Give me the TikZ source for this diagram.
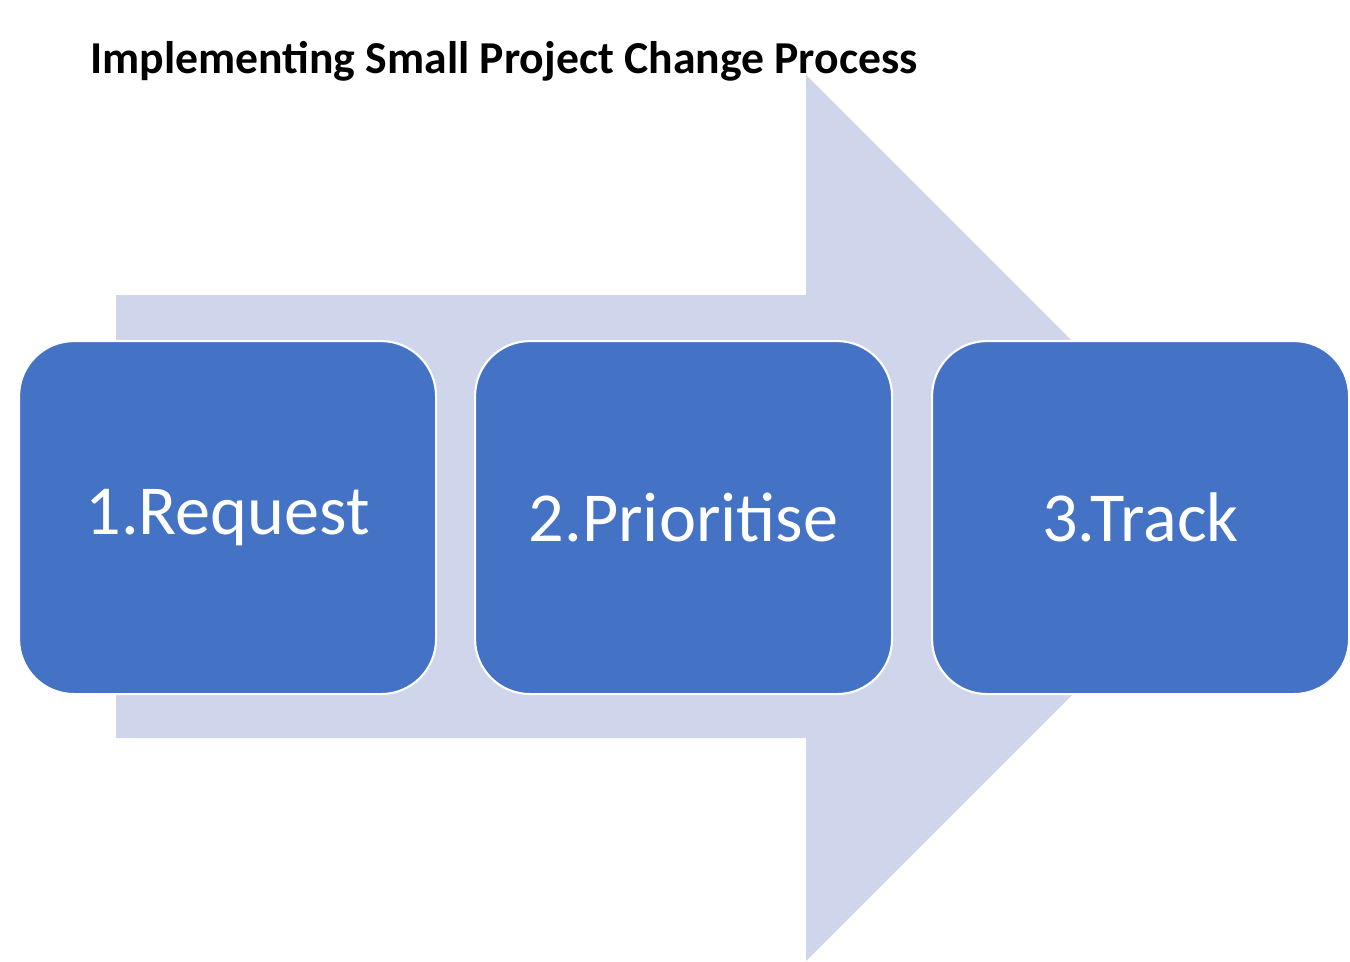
\documentclass[tikz,border=0pt]{standalone}
\usepackage{fontspec}
\setmainfont{Carlito}
\definecolor{arr}{HTML}{CFD5EA}
\definecolor{boxc}{HTML}{4472C4}
\begin{document}
\begin{tikzpicture}[x=0.02cm,y=-0.02cm,
  stepbox/.style={draw=white,line width=1.2pt,fill=boxc,rounded corners=1.1cm,minimum width=417*0.02cm,minimum height=353*0.02cm,text=white,font=\fontsize{40}{48}\selectfont,anchor=north west,inner sep=0pt}]
\useasboundingbox (0,0) rectangle (1350,961);
\fill[arr] (116,295) -- (806,295) -- (806,75) -- (1249,518) -- (806,961) -- (806,738) -- (116,738) -- cycle;
\node[anchor=base west,font=\bfseries\fontsize{26}{30}\selectfont,inner sep=0pt] (title) at (90,73) {Implementing Small Project Change Process};
\node[stepbox] (a) at (18,340) {1.Request};
\node[stepbox] (b) at (474,340) {2.Prioritise};
\node[stepbox] (c) at (931,340) {3.Track};
\end{tikzpicture}
\end{document}
